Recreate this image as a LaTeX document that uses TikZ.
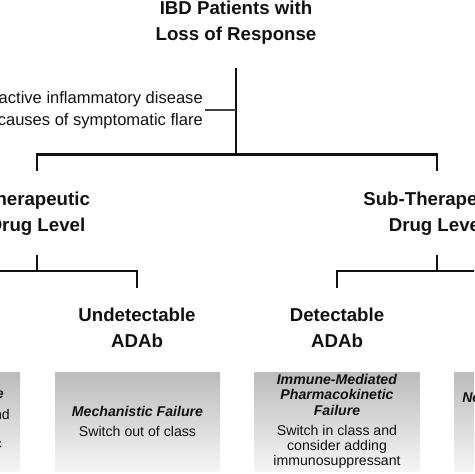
\documentclass[tikz,border=0pt]{standalone}
\usepackage{fontspec}
\setmainfont{Liberation Sans}
\usetikzlibrary{positioning, calc}
\usepackage{xcolor}
\definecolor{ink}{HTML}{111111}
\definecolor{shadetop}{HTML}{BBBBBB}
\definecolor{shadebot}{HTML}{F5F5F5}
\newcommand{\fail}[1]{\textbf{\textit{#1}}}

\begin{document}
\begin{tikzpicture}[
  x=0.75pt, y=-0.75pt,
  hd/.style={align=center, font=\fontsize{14}{19.5}\selectfont\bfseries, text=ink, inner sep=0pt},
  note/.style={align=right, font=\fontsize{12.4}{16.5}\selectfont, text=ink, inner sep=1.5pt},
  res/.style={minimum width=123.75pt, minimum height=74.25pt, inner sep=1pt, align=center,
              top color=shadetop, bottom color=shadebot, draw=none, text=ink,
              font=\fontsize{10.6}{11.5}\selectfont},
  frag/.style={inner sep=0pt, text=ink, font=\fontsize{10.6}{11.5}\selectfont},
  tree/.style={line width=1.65pt, draw=ink},
  tick/.style={line width=0.8pt, draw=ink!80}
]
\useasboundingbox (0,0) rectangle (474,474);
\clip (0,0) rectangle (474,474);

% headings
\node[hd] (pat) at (236,23) {IBD Patients with\\ Loss of Response};
\node[note, anchor=east] (rule) at (205,110) {active inflammatory disease\\ causes of symptomatic flare};
\node[hd] (ther) at (37,214) {Therapeutic\\ Drug Level};
\node[hd] (sub) at (437,214) {Sub-Therapeutic\\ Drug Level};
\node[hd] (undet) at (137,328) {Undetectable\\ ADAb};
\node[hd] (det) at (337,328) {Detectable\\ ADAb};

% outcome boxes
\node[res] (far) at (-62.5,421.5) {};
\node[res] (mech) at (137.5,421.5) {\fail{Mechanistic Failure}\\[3.5pt] Switch out of class};
\node[res] (imm) at (337,421.5) {\fail{Immune-Mediated}\\ \fail{Pharmacokinetic}\\ \fail{Failure}\\[3.5pt]
  Switch in class and\\ consider adding\\ immunosuppressant};
\node[res] (near) at (536.5,421.5) {};
\node[frag, anchor=base east] (farA) at (4,398) {\fail{e}};
\node[frag, anchor=base east] (farB) at (10,419) {nd};
\node[frag, anchor=base east] (farC) at (2,448) {c};
\node[frag, anchor=base west] (nearA) at (462,402) {\fail{No}};

% tree
\coordinate (top) at (236,68);
\coordinate (split) at (236,154.5);
\coordinate (therIn) at (37,171);
\coordinate (subIn) at (437,171);
\coordinate (therOut) at (37,255);
\coordinate (therMid) at (37,271);
\coordinate (subOut) at (437,255);
\coordinate (subMid) at (437,271);
\coordinate (farIn) at (-63,288);
\coordinate (undetIn) at (137,288);
\coordinate (detIn) at (337,288);
\coordinate (nearIn) at (537,288);

\draw[tree] (top) -- (split);
\draw[tree] (therIn) |- (split) -| (subIn);
\draw[tick] (rule.east) -- (rule.east -| top);
\draw[tree] (therOut) -- (therMid);
\draw[tree] (farIn) |- (therMid) -| (undetIn);
\draw[tree] (subOut) -- (subMid);
\draw[tree] (detIn) |- (subMid) -| (nearIn);
\end{tikzpicture}
\end{document}
